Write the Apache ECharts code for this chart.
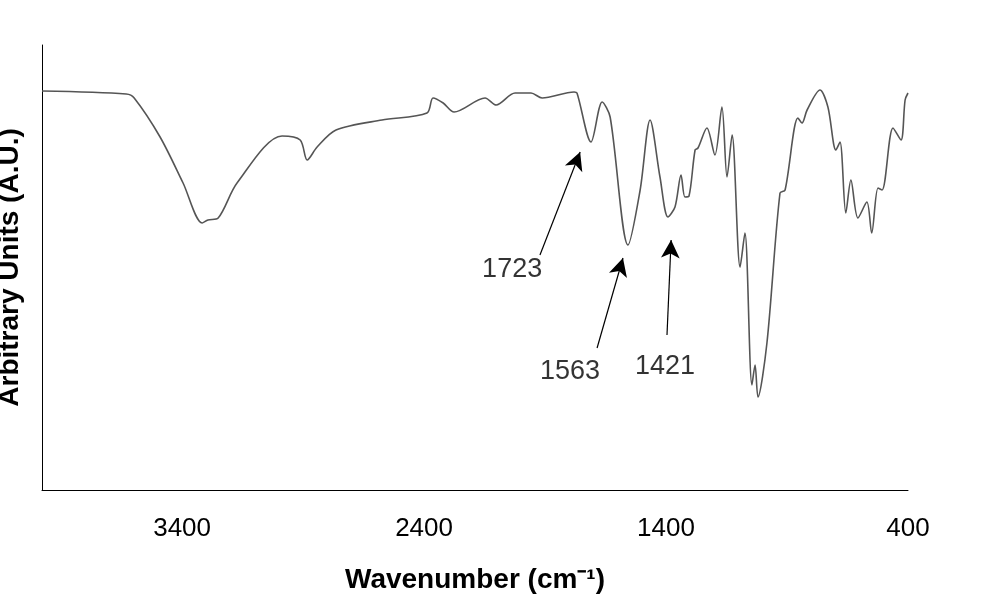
<!DOCTYPE html>
<html><head><meta charset="utf-8">
<script src="https://cdn.jsdelivr.net/npm/echarts@6/dist/echarts.min.js"></script>
<style>html,body{margin:0;padding:0;background:#fff}#c{width:1003px;height:606px}</style>
</head><body><div id="c"></div>
<script>
const wavenumbers=[3979,3631,3598,3491,3396,3317,3293,3251,3173,2987,2912,2883,2842,2764,2574,2388,2363,2321,2276,2148,2102,2024,1958,1912,1780,1768,1710,1664,1631,1557,1507,1466,1425,1392,1363,1338,1322,1305,1280,1268,1231,1198,1169,1148,1127,1094,1074,1045,1032,1020,983,929,908,855,838,817,764,731,698,681,657,636,607,570,550,524,507,462,429,412,400];
const intensity=[399,396,392,353,307,267,270,272,307,354,350,330,343,360,370,377,392,387,378,392,385,397,397,392,398,397,348,388,373,245,300,370,313,273,283,315,293,294,340,342,362,335,383,313,355,223,257,105,125,93,147,297,300,372,367,380,400,383,340,348,277,310,272,288,257,302,300,362,350,390,397];
const xTicks=[400,1400,2400,3400];
const peakLabels=['1723','1563','1421'];
const arrowTails=[[1921,235],[1685,142],[1396,155]];
const arrowHeads=[[1755,338],[1578,232],[1379,250]];
const labelPos=[[2036,220],[1797,118],[1404,123]];
const chart=echarts.init(document.getElementById('c'));
chart.setOption({
  animation:false,
  grid:{left:42,right:95,top:45,bottom:116,containLabel:false,outerBoundsMode:'none'},
  xAxis:{type:'value',inverse:true,min:400,max:3979,interval:1000,
    axisLine:{lineStyle:{color:'#000',width:1}},axisTick:{show:false},splitLine:{show:false},
    axisLabel:{color:'#000',fontSize:26,fontFamily:'Liberation Sans, Arial',margin:26,
      formatter:v=>xTicks.includes(v)?String(v):''},
    name:'Wavenumber (cm⁻¹)',nameLocation:'middle',nameGap:76,
    nameTextStyle:{color:'#000',fontSize:28,fontWeight:'bold',fontFamily:'Liberation Sans, Arial'}},
  yAxis:{type:'value',min:0,max:445,
    axisLine:{show:true,lineStyle:{color:'#000',width:1}},axisTick:{show:false},axisLabel:{show:false},splitLine:{show:false},
    name:'Arbitrary Units (A.U.)',nameLocation:'middle',nameGap:18,
    nameTextStyle:{color:'#000',fontSize:28,fontWeight:'bold',fontFamily:'Liberation Sans, Arial'}},
  series:[
    {type:'line',data:wavenumbers.map((w,i)=>[w,intensity[i]]),smooth:0.3,showSymbol:false,
     lineStyle:{color:'#555',width:1.6},
     markLine:{silent:true,symbol:['none','arrow'],symbolSize:[14,18],
       lineStyle:{color:'#000',width:1.2,type:'solid'},label:{show:false},
       data:arrowTails.map((t,i)=>[{coord:t},{coord:arrowHeads[i]}])}},
    {type:'scatter',symbolSize:0,data:labelPos.map((p,i)=>({value:p,name:peakLabels[i]})),
     label:{show:true,position:'inside',formatter:p=>p.name,color:'#000',fontSize:27,fontFamily:'Liberation Sans, Arial'}}
  ]
});
</script></body></html>
